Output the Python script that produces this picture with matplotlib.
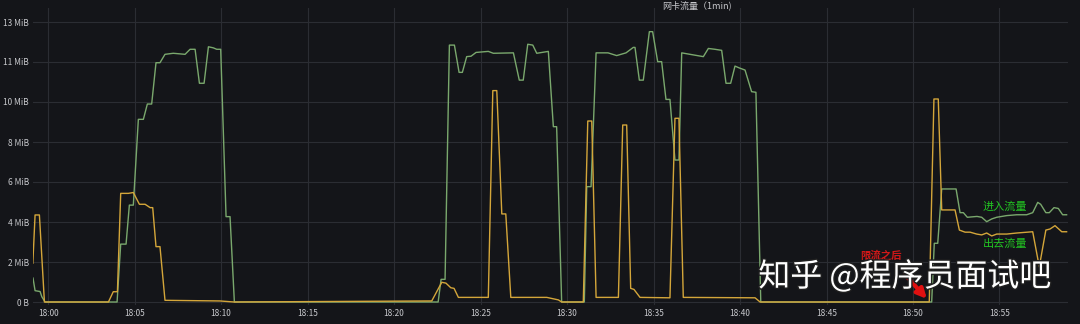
"""Network traffic panel (Grafana style): inbound vs outbound, 1min rate."""

import matplotlib
matplotlib.use("Agg")
import matplotlib.pyplot as plt
import matplotlib.patheffects as pe
import numpy as np

plt.rcParams["font.family"] = ["Noto Sans CJK SC", "DejaVu Sans"]

# minutes after 18:00, values in MiB/s
in_t = [-0.87, -0.75, -0.46, -0.36, -0.17, 3.99, 4.20, 4.51, 4.70, 4.93, 5.22,
        5.51, 5.74, 5.99, 6.24, 6.47, 6.76, 7.24, 7.92, 8.21, 8.50, 8.75, 9.02,
        9.27, 9.55, 9.75, 9.98, 10.29, 10.52, 10.77, 22.55, 22.72, 22.95, 23.20,
        23.49, 23.76, 23.95, 24.20, 24.45, 24.74, 25.45, 25.74, 26.90, 27.24,
        27.47, 27.73, 28.02, 28.25, 28.92, 29.21, 29.40, 29.69, 31.00, 31.14,
        31.39, 31.68, 32.37, 32.87, 33.41, 33.83, 33.93, 34.18, 34.41, 34.76,
        34.95, 35.24, 35.47, 35.72, 35.95, 36.24, 36.47, 36.63, 37.11, 37.88,
        38.17, 38.55, 38.94, 39.19, 39.46, 39.71, 39.96, 40.29, 40.67, 40.92,
        41.20, 51.08, 51.23, 51.43, 51.66, 52.49, 52.72, 52.91, 53.14, 53.70,
        53.97, 54.26, 54.55, 54.84, 55.42, 56.00, 56.57, 56.92, 57.21, 57.38,
        57.68, 57.88, 58.15, 58.40, 58.65, 58.88]
in_v = [1.14, 0.54, 0.50, 0.25, 0.0, 0.0, 2.76, 2.76, 4.62, 4.62, 8.71,
        8.71, 9.44, 9.44, 11.41, 11.41, 11.81, 11.86, 11.81, 12.05, 12.05, 10.43, 10.43,
        12.17, 12.12, 12.05, 12.05, 4.07, 4.07, 0.0, 0.0, 1.08, 1.08, 12.25,
        12.25, 10.95, 10.95, 11.70, 11.72, 11.90, 11.95, 11.86, 11.88, 10.58,
        10.58, 12.29, 12.25, 11.86, 11.95, 8.36, 8.36, 0.0, 0.0, 5.50,
        5.50, 11.88, 11.88, 11.75, 11.88, 12.14, 12.14, 10.58, 10.58, 12.89,
        12.89, 11.46, 11.46, 9.66, 9.66, 6.77, 6.77, 11.88, 11.81, 11.70,
        12.09, 12.05, 12.00, 10.43, 10.43, 11.25, 11.16, 11.06, 10.03, 10.00,
        0.0, 0.0, 2.80, 2.80, 5.39, 5.39, 4.26, 4.26, 4.04, 4.08,
        4.04, 3.83, 3.96, 4.04, 4.12, 4.16, 4.16, 4.26, 4.75, 4.66,
        4.26, 4.26, 4.50, 4.46, 4.16, 4.16]

out_t = [-0.88, -0.75, -0.50, -0.21, 3.49, 3.77, 4.01, 4.20, 4.64, 4.93, 5.28,
         5.61, 5.90, 6.05, 6.24, 6.47, 6.76, 9.94, 10.75, 22.18, 22.76, 23.00,
         23.28, 23.47, 23.72, 25.45, 25.71, 25.94, 26.23, 26.46, 26.75, 28.83,
         29.50, 29.69, 30.94, 31.20, 31.43, 31.68, 32.97, 33.22, 33.45, 33.68,
         33.87, 34.22, 35.95, 36.24, 36.47, 36.72, 40.87, 41.16, 50.94, 51.21,
         51.46, 51.66, 52.43, 52.68, 53.01, 53.30, 53.68, 53.97, 54.26, 54.55,
         54.84, 55.42, 56.00, 56.92, 57.30, 57.68, 57.92, 58.21, 58.60, 58.88]
out_v = [1.85, 4.15, 4.15, 0.0, 0.0, 0.49, 0.49, 5.18, 5.18, 5.22, 4.66,
         4.66, 4.50, 4.50, 2.64, 2.64, 0.08, 0.05, 0.0, 0.05, 0.94, 0.90,
         0.68, 0.65, 0.22, 0.22, 10.08, 10.08, 4.20, 4.20, 0.22, 0.22,
         0.10, 0.0, 0.0, 8.63, 8.63, 0.22, 0.22, 8.44, 8.44, 0.65,
         0.60, 0.22, 0.20, 8.76, 8.76, 0.22, 0.20, 0.0, 0.0, 9.68,
         9.68, 4.39, 4.39, 3.43, 3.33, 3.33, 3.24, 3.20, 3.29, 3.15,
         3.24, 3.24, 3.29, 3.35, 1.68, 3.43, 3.48, 3.64, 3.35, 3.35]

x_ticks = list(range(0, 60, 5))
x_labels = ["18:%02d" % m for m in x_ticks]
y_step = 2e6 / 2**20  # Grafana picked 2 MB steps, labels rounded to MiB
y_labels = ["0 B", "2 MiB", "4 MiB", "6 MiB", "8 MiB", "10 MiB", "11 MiB", "13 MiB"]

BG = "#141519"
GRID = "#2b2d33"
TXT = "#c7c8cc"

fig = plt.figure(figsize=(10.8, 3.24), dpi=100, facecolor=BG)
ax = fig.add_axes([33 / 1080, 1 - 305 / 324, 1035 / 1080, 297 / 324], facecolor=BG)

ax.plot(in_t, in_v, color="#7aa86d", lw=1.0)
ax.plot(out_t, out_v, color="#d4a63a", lw=1.0)

ax.set_xlim(-0.87, 58.96)
ax.set_ylim(-3 / 40 * y_step, 294 / 40 * y_step)
ax.set_xticks(x_ticks)
ax.set_xticklabels(x_labels)
ax.set_yticks([i * y_step for i in range(len(y_labels))])
ax.set_yticklabels(y_labels)
ax.tick_params(colors=TXT, labelsize=6, length=0, pad=3)
ax.grid(color=GRID, lw=0.8)
for s in ax.spines.values():
    s.set_visible(False)

fig.text(697 / 1080, 1 - 5 / 324, "网卡流量（1min)", color=TXT, fontsize=6.5,
         ha="center", va="center")

# hand-drawn annotations on the screenshot
ax.text(55.3, 4.55, "进入流量", color="#22c422", fontsize=8, ha="center", va="center")
ax.text(55.3, 2.77, "出去流量", color="#22c422", fontsize=8, ha="center", va="center")
ax.text(48.15, 2.2, "限流之后", color="#d01818", fontsize=7.5, fontweight="bold",
        ha="center", va="center")
ax.annotate("", xy=(50.8, 0.15), xytext=(49.55, 1.3),
            arrowprops=dict(arrowstyle="-|>", color="#e01010", lw=3,
                            mutation_scale=14, shrinkA=0, shrinkB=0))

fig.text(905 / 1080, 1 - 277 / 324, "知乎 @程序员面试吧", color="white", fontsize=23,
         ha="center", va="center",
         path_effects=[pe.withStroke(linewidth=2, foreground="#202020")])

fig.savefig("out.png", dpi=100, facecolor=BG)
